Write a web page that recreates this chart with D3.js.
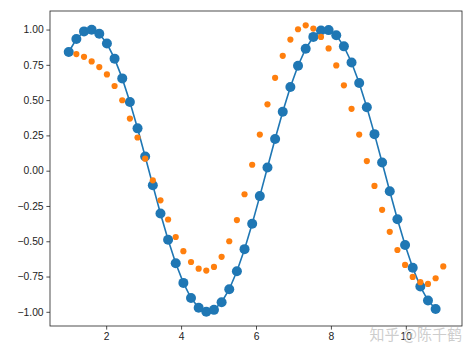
<!DOCTYPE html>
<html>
<head>
<meta charset="utf-8">
<script src="https://cdn.jsdelivr.net/npm/d3@7"></script>
<style>
  body { margin: 0; background: #fff; }
  svg { display: block; font-family: "DejaVu Sans", sans-serif; }
</style>
</head>
<body>
<div id="chart"></div>
<script>
// x positions of the samples
const xs = [1.000, 1.204, 1.408, 1.612, 1.816, 2.020, 2.224, 2.429, 2.633, 2.837,
  3.041, 3.245, 3.449, 3.653, 3.857, 4.061, 4.265, 4.469, 4.673, 4.878,
  5.082, 5.286, 5.490, 5.694, 5.898, 6.102, 6.306, 6.510, 6.714, 6.918,
  7.122, 7.327, 7.531, 7.735, 7.939, 8.143, 8.347, 8.551, 8.755, 8.959,
  9.163, 9.367, 9.571, 9.776, 9.980, 10.184, 10.388, 10.592, 10.796, 11.000];

// blue line + big markers, at xs[0..48]
const actual = [0.841, 0.933, 0.987, 0.999, 0.970, 0.901, 0.794, 0.654, 0.487, 0.300,
  0.100, -0.103, -0.303, -0.489, -0.656, -0.795, -0.902, -0.971, -0.999, -0.986,
  -0.932, -0.840, -0.713, -0.556, -0.376, -0.180, 0.023, 0.225, 0.418, 0.593,
  0.744, 0.864, 0.948, 0.993, 0.996, 0.959, 0.881, 0.767, 0.621, 0.449,
  0.259, 0.058, -0.146, -0.344, -0.527, -0.688, -0.821, -0.920, -0.980];

// orange dots, at xs[1..49]
const predicted = [0.826, 0.807, 0.774, 0.734, 0.682, 0.600, 0.499, 0.369, 0.235, 0.085,
  -0.068, -0.210, -0.346, -0.470, -0.570, -0.647, -0.694, -0.708, -0.682, -0.610,
  -0.500, -0.350, -0.167, 0.042, 0.256, 0.470, 0.658, 0.814, 0.929, 1.002,
  1.030, 1.007, 0.948, 0.866, 0.746, 0.605, 0.438, 0.256, 0.068, -0.108,
  -0.277, -0.433, -0.562, -0.668, -0.753, -0.790, -0.802, -0.762, -0.678];

const xTicks = [2, 4, 6, 8, 10];
const yTicks = [-1, -0.75, -0.5, -0.25, 0, 0.25, 0.5, 0.75, 1];
const watermark = "知乎 @陈千鹤";

const width = 474, height = 355;
const margin = { top: 11, right: 12, bottom: 29, left: 50 };

const actualData = actual.map((y, i) => ({ x: xs[i], y }));
const predData = predicted.map((y, i) => ({ x: xs[i + 1], y }));

// matplotlib-style 5% padding
const pad = (lo, hi) => { const s = hi - lo; return [lo - s * 0.05, hi + s * 0.05]; };
const allY = actual.concat(predicted);

const x = d3.scaleLinear()
  .domain(pad(d3.min(xs), d3.max(xs)))
  .range([margin.left, width - margin.right]);
const y = d3.scaleLinear()
  .domain(pad(d3.min(allY), d3.max(allY)))
  .range([height - margin.bottom, margin.top]);

const svg = d3.select("#chart").append("svg")
  .attr("width", width).attr("height", height);

svg.append("path")
  .datum(actualData)
  .attr("fill", "none")
  .attr("stroke", "#1f77b4")
  .attr("stroke-width", 1.6)
  .attr("d", d3.line().x(d => x(d.x)).y(d => y(d.y)));

svg.append("g").selectAll("circle")
  .data(actualData)
  .join("circle")
  .attr("cx", d => x(d.x)).attr("cy", d => y(d.y))
  .attr("r", 5)
  .attr("fill", "#1f77b4");

svg.append("g").selectAll("circle")
  .data(predData)
  .join("circle")
  .attr("cx", d => x(d.x)).attr("cy", d => y(d.y))
  .attr("r", 3.1)
  .attr("fill", "#ff7f0e");

const styleAxis = g => {
  g.select(".domain").remove();
  g.selectAll(".tick line").attr("stroke", "#222").attr("stroke-width", 0.8);
  g.selectAll(".tick text").attr("fill", "#222").style("font-size", "10.3px");
};

svg.append("g")
  .attr("transform", `translate(0,${height - margin.bottom})`)
  .call(d3.axisBottom(x).tickValues(xTicks).tickSize(3.6).tickPadding(2.8).tickFormat(d3.format("d")))
  .call(styleAxis);

svg.append("g")
  .attr("transform", `translate(${margin.left},0)`)
  .call(d3.axisLeft(y).tickValues(yTicks).tickSize(3.6).tickPadding(2.8).tickFormat(d3.format(".2f")))
  .call(styleAxis);

svg.append("rect")
  .attr("x", margin.left).attr("y", margin.top)
  .attr("width", width - margin.left - margin.right)
  .attr("height", height - margin.top - margin.bottom)
  .attr("fill", "none")
  .attr("stroke", "#222")
  .attr("stroke-width", 0.8);

svg.append("text")
  .attr("x", 462).attr("y", 340)
  .attr("text-anchor", "end")
  .attr("fill", "#c4c4c4")
  .attr("fill-opacity", 0.85)
  .style("font-family", "'Noto Sans CJK SC', sans-serif")
  .style("font-size", "15px")
  .text(watermark);
</script>
</body>
</html>
